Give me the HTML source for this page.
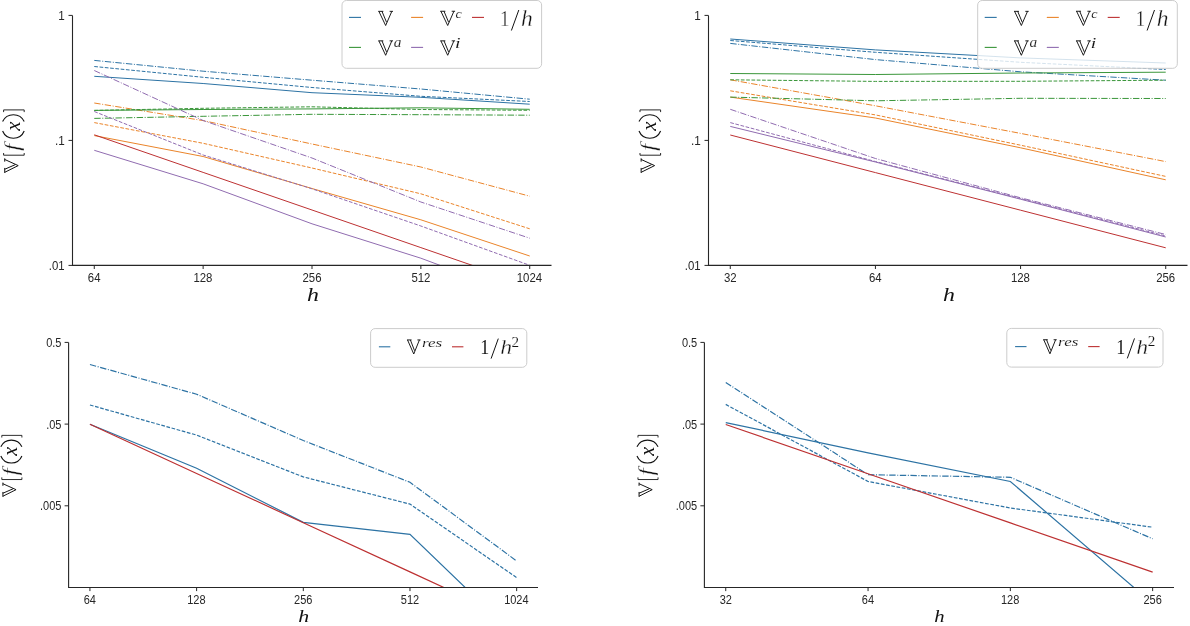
<!DOCTYPE html><html><head><meta charset="utf-8"><style>html,body{margin:0;padding:0;background:#fff;width:1190px;height:626px;overflow:hidden}svg{display:block;will-change:transform}</style></head><body>
<svg width="1190" height="626" viewBox="0 0 1190 626">
<clipPath id="c1"><rect x="72.5" y="-14.6" width="479" height="280"/></clipPath>
<clipPath id="c2"><rect x="708.5" y="-14.6" width="479" height="280"/></clipPath>
<clipPath id="c3"><rect x="68.6" y="312.4" width="469.4" height="275.1"/></clipPath>
<clipPath id="c4"><rect x="704.4" y="312.4" width="469.6" height="275.1"/></clipPath>
<polyline points="94.273,76.3 203.136,83.5 312,92.7 420.864,97.3 529.727,104.2" fill="none" stroke="#2d73a4" stroke-width="1" clip-path="url(#c1)"/>
<polyline points="94.273,66.5 203.136,77.3 312,87.5 420.864,96.3 529.727,101.5" fill="none" stroke="#2d73a4" stroke-width="1" stroke-dasharray="3.7,1.6" clip-path="url(#c1)"/>
<polyline points="94.273,60.4 203.136,71.2 312,80.2 420.864,89 529.727,99.2" fill="none" stroke="#2d73a4" stroke-width="1" stroke-dasharray="6.4,1.6,1,1.6" clip-path="url(#c1)"/>
<polyline points="94.273,135.6 203.136,156.5 312,188.5 420.864,219.8 529.727,256" fill="none" stroke="#ea842a" stroke-width="1" clip-path="url(#c1)"/>
<polyline points="94.273,122.6 203.136,143.3 312,168 420.864,193.8 529.727,228.8" fill="none" stroke="#ea842a" stroke-width="1" stroke-dasharray="3.7,1.6" clip-path="url(#c1)"/>
<polyline points="94.273,103 203.136,120.6 312,144 420.864,167 529.727,196.2" fill="none" stroke="#ea842a" stroke-width="1" stroke-dasharray="6.4,1.6,1,1.6" clip-path="url(#c1)"/>
<polyline points="94.273,110.4 203.136,109.5 312,108.9 420.864,107.8 529.727,109.3" fill="none" stroke="#3a963a" stroke-width="1" clip-path="url(#c1)"/>
<polyline points="94.273,110.4 203.136,108.3 312,106.8 420.864,109.5 529.727,110.3" fill="none" stroke="#3a963a" stroke-width="1" stroke-dasharray="3.7,1.6" clip-path="url(#c1)"/>
<polyline points="94.273,118.4 203.136,116.3 312,114.3 420.864,114.7 529.727,115.2" fill="none" stroke="#3a963a" stroke-width="1" stroke-dasharray="6.4,1.6,1,1.6" clip-path="url(#c1)"/>
<polyline points="94.273,150.3 203.136,183.8 312,223.8 420.864,258.2 529.727,298.8" fill="none" stroke="#906cb0" stroke-width="1" clip-path="url(#c1)"/>
<polyline points="94.273,111.5 203.136,155 312,188.8 420.864,226 529.727,265.3" fill="none" stroke="#906cb0" stroke-width="1" stroke-dasharray="3.7,1.6" clip-path="url(#c1)"/>
<polyline points="94.273,70.5 203.136,120.5 312,158 420.864,202 529.727,238.2" fill="none" stroke="#906cb0" stroke-width="1" stroke-dasharray="6.4,1.6,1,1.6" clip-path="url(#c1)"/>
<polyline points="94.273,134.8 203.136,172.4 312,210 420.864,247.6 529.727,285.2" fill="none" stroke="#bd3132" stroke-width="1" clip-path="url(#c1)"/>
<polyline points="730.273,39 875.424,49.9 1020.576,57.9 1165.727,63" fill="none" stroke="#2d73a4" stroke-width="1" clip-path="url(#c2)"/>
<polyline points="730.273,40.5 875.424,52.3 1020.576,62.3 1165.727,69.5" fill="none" stroke="#2d73a4" stroke-width="1" stroke-dasharray="3.7,1.6" clip-path="url(#c2)"/>
<polyline points="730.273,43.4 875.424,59.6 1020.576,71.8 1165.727,80.2" fill="none" stroke="#2d73a4" stroke-width="1" stroke-dasharray="6.4,1.6,1,1.6" clip-path="url(#c2)"/>
<polyline points="730.273,97.1 875.424,118 1020.576,147.8 1165.727,179.8" fill="none" stroke="#ea842a" stroke-width="1" clip-path="url(#c2)"/>
<polyline points="730.273,90.8 875.424,114.9 1020.576,145.2 1165.727,176.4" fill="none" stroke="#ea842a" stroke-width="1" stroke-dasharray="3.7,1.6" clip-path="url(#c2)"/>
<polyline points="730.273,79.8 875.424,105.8 1020.576,133.4 1165.727,161.6" fill="none" stroke="#ea842a" stroke-width="1" stroke-dasharray="6.4,1.6,1,1.6" clip-path="url(#c2)"/>
<polyline points="730.273,73.5 875.424,74.5 1020.576,73 1165.727,72.2" fill="none" stroke="#3a963a" stroke-width="1" clip-path="url(#c2)"/>
<polyline points="730.273,79.8 875.424,81.4 1020.576,81.3 1165.727,80.2" fill="none" stroke="#3a963a" stroke-width="1" stroke-dasharray="3.7,1.6" clip-path="url(#c2)"/>
<polyline points="730.273,97.1 875.424,100.8 1020.576,98.3 1165.727,98.5" fill="none" stroke="#3a963a" stroke-width="1" stroke-dasharray="6.4,1.6,1,1.6" clip-path="url(#c2)"/>
<polyline points="730.273,126.4 875.424,162 1020.576,199.2 1165.727,237" fill="none" stroke="#906cb0" stroke-width="1" clip-path="url(#c2)"/>
<polyline points="730.273,122.6 875.424,161.5 1020.576,198.6 1165.727,236" fill="none" stroke="#906cb0" stroke-width="1" stroke-dasharray="3.7,1.6" clip-path="url(#c2)"/>
<polyline points="730.273,109.3 875.424,158.5 1020.576,197.8 1165.727,234.5" fill="none" stroke="#906cb0" stroke-width="1" stroke-dasharray="6.4,1.6,1,1.6" clip-path="url(#c2)"/>
<polyline points="730.273,135 875.424,172.6 1020.576,210.2 1165.727,247.8" fill="none" stroke="#bd3132" stroke-width="1" clip-path="url(#c2)"/>
<polyline points="89.936,424.3 196.618,468.3 303.3,522.3 409.982,534.4 516.664,637" fill="none" stroke="#2d73a4" stroke-width="1.2" clip-path="url(#c3)"/>
<polyline points="89.936,405 196.618,435.1 303.3,476.9 409.982,504.1 516.664,577.6" fill="none" stroke="#2d73a4" stroke-width="1.2" stroke-dasharray="3.7,1.6" clip-path="url(#c3)"/>
<polyline points="89.936,364.5 196.618,394.2 303.3,440.5 409.982,482.3 516.664,561" fill="none" stroke="#2d73a4" stroke-width="1.2" stroke-dasharray="6.4,1.6,1,1.6" clip-path="url(#c3)"/>
<polyline points="89.936,424.3 196.618,473.5 303.3,522.7 409.982,571.9 516.664,621.1" fill="none" stroke="#bd3132" stroke-width="1.2" clip-path="url(#c3)"/>
<polyline points="725.745,422.6 868.048,452.8 1010.352,481.5 1152.655,603.6" fill="none" stroke="#2d73a4" stroke-width="1.2" clip-path="url(#c4)"/>
<polyline points="725.745,404.4 868.048,481.5 1010.352,508 1152.655,527.2" fill="none" stroke="#2d73a4" stroke-width="1.2" stroke-dasharray="3.7,1.6" clip-path="url(#c4)"/>
<polyline points="725.745,382.4 868.048,474.7 1010.352,477.3 1152.655,538.8" fill="none" stroke="#2d73a4" stroke-width="1.2" stroke-dasharray="6.4,1.6,1,1.6" clip-path="url(#c4)"/>
<polyline points="725.745,424.5 868.048,473.7 1010.352,522.9 1152.655,572.1" fill="none" stroke="#bd3132" stroke-width="1.2" clip-path="url(#c4)"/>
<path d="M72.5 15.4V265.4H551.5" fill="none" stroke="#262626" stroke-width="1.1"/>
<path d="M94.273 265.4L94.273 269" stroke="#262626" stroke-width="1"/>
<text transform="matrix(0.114 0 0 0.124 87.802 281.876)" style="font-family:&quot;Liberation Sans&quot;,sans-serif;font-size:100px" fill="#262626">64</text>
<path d="M203.136 265.4L203.136 269" stroke="#262626" stroke-width="1"/>
<text transform="matrix(0.114 0 0 0.124 193.444 281.876)" style="font-family:&quot;Liberation Sans&quot;,sans-serif;font-size:100px" fill="#262626">128</text>
<path d="M312 265.4L312 269" stroke="#262626" stroke-width="1"/>
<text transform="matrix(0.114 0 0 0.124 302.45 281.876)" style="font-family:&quot;Liberation Sans&quot;,sans-serif;font-size:100px" fill="#262626">256</text>
<path d="M420.864 265.4L420.864 269" stroke="#262626" stroke-width="1"/>
<text transform="matrix(0.114 0 0 0.124 411.428 281.876)" style="font-family:&quot;Liberation Sans&quot;,sans-serif;font-size:100px" fill="#262626">512</text>
<path d="M529.727 265.4L529.727 269" stroke="#262626" stroke-width="1"/>
<text transform="matrix(0.114 0 0 0.124 516.757 281.876)" style="font-family:&quot;Liberation Sans&quot;,sans-serif;font-size:100px" fill="#262626">1024</text>
<path d="M72.5 15.4L68.5 15.4" stroke="#262626" stroke-width="1"/>
<text transform="matrix(0.117 0 0 0.128 58.216 20.1)" style="font-family:&quot;Liberation Sans&quot;,sans-serif;font-size:100px" fill="#262626">1</text>
<path d="M72.5 140.4L68.5 140.4" stroke="#262626" stroke-width="1"/>
<text transform="matrix(0.117 0 0 0.128 54.931 145.1)" style="font-family:&quot;Liberation Sans&quot;,sans-serif;font-size:100px" fill="#262626">.1</text>
<path d="M72.5 265.4L68.5 265.4" stroke="#262626" stroke-width="1"/>
<text transform="matrix(0.114 0 0 0.124 48.863 269.976)" style="font-family:&quot;Liberation Sans&quot;,sans-serif;font-size:100px" fill="#262626">.01</text>
<path d="M708.5 15.4V265.4H1187.5" fill="none" stroke="#262626" stroke-width="1.1"/>
<path d="M730.273 265.4L730.273 269" stroke="#262626" stroke-width="1"/>
<text transform="matrix(0.114 0 0 0.124 724.03 281.876)" style="font-family:&quot;Liberation Sans&quot;,sans-serif;font-size:100px" fill="#262626">32</text>
<path d="M875.424 265.4L875.424 269" stroke="#262626" stroke-width="1"/>
<text transform="matrix(0.114 0 0 0.124 868.953 281.876)" style="font-family:&quot;Liberation Sans&quot;,sans-serif;font-size:100px" fill="#262626">64</text>
<path d="M1020.576 265.4L1020.576 269" stroke="#262626" stroke-width="1"/>
<text transform="matrix(0.114 0 0 0.124 1010.883 281.876)" style="font-family:&quot;Liberation Sans&quot;,sans-serif;font-size:100px" fill="#262626">128</text>
<path d="M1165.727 265.4L1165.727 269" stroke="#262626" stroke-width="1"/>
<text transform="matrix(0.114 0 0 0.124 1156.177 281.876)" style="font-family:&quot;Liberation Sans&quot;,sans-serif;font-size:100px" fill="#262626">256</text>
<path d="M708.5 15.4L704.5 15.4" stroke="#262626" stroke-width="1"/>
<text transform="matrix(0.117 0 0 0.128 694.216 20.1)" style="font-family:&quot;Liberation Sans&quot;,sans-serif;font-size:100px" fill="#262626">1</text>
<path d="M708.5 140.4L704.5 140.4" stroke="#262626" stroke-width="1"/>
<text transform="matrix(0.117 0 0 0.128 690.931 145.1)" style="font-family:&quot;Liberation Sans&quot;,sans-serif;font-size:100px" fill="#262626">.1</text>
<path d="M708.5 265.4L704.5 265.4" stroke="#262626" stroke-width="1"/>
<text transform="matrix(0.114 0 0 0.124 684.863 269.976)" style="font-family:&quot;Liberation Sans&quot;,sans-serif;font-size:100px" fill="#262626">.01</text>
<path d="M68.6 342.4V587.5H538" fill="none" stroke="#262626" stroke-width="1.1"/>
<path d="M89.936 587.5L89.936 591.1" stroke="#262626" stroke-width="1"/>
<text transform="matrix(0.11 0 0 0.12 83.686 603.68)" style="font-family:&quot;Liberation Sans&quot;,sans-serif;font-size:100px" fill="#262626">64</text>
<path d="M196.618 587.5L196.618 591.1" stroke="#262626" stroke-width="1"/>
<text transform="matrix(0.11 0 0 0.12 187.256 603.68)" style="font-family:&quot;Liberation Sans&quot;,sans-serif;font-size:100px" fill="#262626">128</text>
<path d="M303.3 587.5L303.3 591.1" stroke="#262626" stroke-width="1"/>
<text transform="matrix(0.11 0 0 0.12 294.076 603.68)" style="font-family:&quot;Liberation Sans&quot;,sans-serif;font-size:100px" fill="#262626">256</text>
<path d="M409.982 587.5L409.982 591.1" stroke="#262626" stroke-width="1"/>
<text transform="matrix(0.11 0 0 0.12 400.868 603.68)" style="font-family:&quot;Liberation Sans&quot;,sans-serif;font-size:100px" fill="#262626">512</text>
<path d="M516.664 587.5L516.664 591.1" stroke="#262626" stroke-width="1"/>
<text transform="matrix(0.11 0 0 0.12 504.135 603.68)" style="font-family:&quot;Liberation Sans&quot;,sans-serif;font-size:100px" fill="#262626">1024</text>
<path d="M68.6 342.4L64.6 342.4" stroke="#262626" stroke-width="1"/>
<text transform="matrix(0.11 0 0 0.12 46.131 346.83)" style="font-family:&quot;Liberation Sans&quot;,sans-serif;font-size:100px" fill="#262626">0.5</text>
<path d="M68.6 424.1L64.6 424.1" stroke="#262626" stroke-width="1"/>
<text transform="matrix(0.11 0 0 0.12 46.131 428.53)" style="font-family:&quot;Liberation Sans&quot;,sans-serif;font-size:100px" fill="#262626">.05</text>
<path d="M68.6 505.8L64.6 505.8" stroke="#262626" stroke-width="1"/>
<text transform="matrix(0.11 0 0 0.12 40.018 510.23)" style="font-family:&quot;Liberation Sans&quot;,sans-serif;font-size:100px" fill="#262626">.005</text>
<path d="M704.4 342.4V587.5H1174" fill="none" stroke="#262626" stroke-width="1.1"/>
<path d="M725.745 587.5L725.745 591.1" stroke="#262626" stroke-width="1"/>
<text transform="matrix(0.11 0 0 0.12 719.715 603.68)" style="font-family:&quot;Liberation Sans&quot;,sans-serif;font-size:100px" fill="#262626">32</text>
<path d="M868.048 587.5L868.048 591.1" stroke="#262626" stroke-width="1"/>
<text transform="matrix(0.11 0 0 0.12 861.798 603.68)" style="font-family:&quot;Liberation Sans&quot;,sans-serif;font-size:100px" fill="#262626">64</text>
<path d="M1010.352 587.5L1010.352 591.1" stroke="#262626" stroke-width="1"/>
<text transform="matrix(0.11 0 0 0.12 1000.99 603.68)" style="font-family:&quot;Liberation Sans&quot;,sans-serif;font-size:100px" fill="#262626">128</text>
<path d="M1152.655 587.5L1152.655 591.1" stroke="#262626" stroke-width="1"/>
<text transform="matrix(0.11 0 0 0.12 1143.43 603.68)" style="font-family:&quot;Liberation Sans&quot;,sans-serif;font-size:100px" fill="#262626">256</text>
<path d="M704.4 342.4L700.4 342.4" stroke="#262626" stroke-width="1"/>
<text transform="matrix(0.11 0 0 0.12 681.931 346.83)" style="font-family:&quot;Liberation Sans&quot;,sans-serif;font-size:100px" fill="#262626">0.5</text>
<path d="M704.4 424.1L700.4 424.1" stroke="#262626" stroke-width="1"/>
<text transform="matrix(0.11 0 0 0.12 681.931 428.53)" style="font-family:&quot;Liberation Sans&quot;,sans-serif;font-size:100px" fill="#262626">.05</text>
<path d="M704.4 505.8L700.4 505.8" stroke="#262626" stroke-width="1"/>
<text transform="matrix(0.11 0 0 0.12 675.818 510.23)" style="font-family:&quot;Liberation Sans&quot;,sans-serif;font-size:100px" fill="#262626">.005</text>
<text transform="matrix(0.238 0 0 0.178 307.068 300.9)" style="font-family:&quot;Liberation Serif&quot;,serif;font-style:italic;font-size:100px" fill="#111">h</text>
<text transform="matrix(0.238 0 0 0.178 943.068 300.9)" style="font-family:&quot;Liberation Serif&quot;,serif;font-style:italic;font-size:100px" fill="#111">h</text>
<text transform="matrix(0.219 0 0 0.17 298.234 621.9)" style="font-family:&quot;Liberation Serif&quot;,serif;font-style:italic;font-size:100px" fill="#111">h</text>
<text transform="matrix(0.207 0 0 0.174 934.275 622)" style="font-family:&quot;Liberation Serif&quot;,serif;font-style:italic;font-size:100px" fill="#111">h</text>
<g transform="translate(13.9 141) scale(1) translate(-13.9 -141) rotate(-90)"><path d="M-172.9 4.726L-167.936 4.726M-172.316 4.726L-165.6 18.216M-169.25 4.726L-164.724 15.092M-165.6 18.216L-159.468 4.726M-161.658 4.726L-158.3 4.726" fill="none" stroke="#111" stroke-width="1" stroke-linecap="butt"/><path d="M-153 3.6H-155.2V24.2H-153" fill="none" stroke="#111" stroke-width="0.9"/><path d="M-112.1 3.6H-109.9V24.2H-112.1" fill="none" stroke="#111" stroke-width="0.9"/><text transform="matrix(0.26 0 0 0.211 -151.06 19.066)" style="font-family:&quot;Liberation Serif&quot;,serif;font-style:italic;font-size:100px" fill="#111" stroke="#fff" stroke-width="1.423">f</text><path d="M-131 2.6A11.7 11.7 0 0 0 -131 24.2" fill="none" stroke="#111" stroke-width="1.15"/><text transform="matrix(0.207 0 0 0.207 -130.69 19.6)" style="font-family:&quot;Liberation Serif&quot;,serif;font-style:italic;font-size:100px" fill="#111">x</text><path d="M-121.6 2.6A11.976 11.976 0 0 1 -121.6 24.2" fill="none" stroke="#111" stroke-width="1.15"/></g>
<g transform="translate(650.3 141) scale(1) translate(-13.9 -141) rotate(-90)"><path d="M-172.9 4.726L-167.936 4.726M-172.316 4.726L-165.6 18.216M-169.25 4.726L-164.724 15.092M-165.6 18.216L-159.468 4.726M-161.658 4.726L-158.3 4.726" fill="none" stroke="#111" stroke-width="1" stroke-linecap="butt"/><path d="M-153 3.6H-155.2V24.2H-153" fill="none" stroke="#111" stroke-width="0.9"/><path d="M-112.1 3.6H-109.9V24.2H-112.1" fill="none" stroke="#111" stroke-width="0.9"/><text transform="matrix(0.26 0 0 0.211 -151.06 19.066)" style="font-family:&quot;Liberation Serif&quot;,serif;font-style:italic;font-size:100px" fill="#111" stroke="#fff" stroke-width="1.423">f</text><path d="M-131 2.6A11.7 11.7 0 0 0 -131 24.2" fill="none" stroke="#111" stroke-width="1.15"/><text transform="matrix(0.207 0 0 0.207 -130.69 19.6)" style="font-family:&quot;Liberation Serif&quot;,serif;font-style:italic;font-size:100px" fill="#111">x</text><path d="M-121.6 2.6A11.976 11.976 0 0 1 -121.6 24.2" fill="none" stroke="#111" stroke-width="1.15"/></g>
<g transform="translate(11.85 465.7) scale(0.975) translate(-13.9 -141) rotate(-90)"><path d="M-172.9 4.726L-167.936 4.726M-172.316 4.726L-165.6 18.216M-169.25 4.726L-164.724 15.092M-165.6 18.216L-159.468 4.726M-161.658 4.726L-158.3 4.726" fill="none" stroke="#111" stroke-width="1" stroke-linecap="butt"/><path d="M-153 3.6H-155.2V24.2H-153" fill="none" stroke="#111" stroke-width="0.9"/><path d="M-112.1 3.6H-109.9V24.2H-112.1" fill="none" stroke="#111" stroke-width="0.9"/><text transform="matrix(0.26 0 0 0.211 -151.06 19.066)" style="font-family:&quot;Liberation Serif&quot;,serif;font-style:italic;font-size:100px" fill="#111" stroke="#fff" stroke-width="1.423">f</text><path d="M-131 2.6A11.7 11.7 0 0 0 -131 24.2" fill="none" stroke="#111" stroke-width="1.15"/><text transform="matrix(0.207 0 0 0.207 -130.69 19.6)" style="font-family:&quot;Liberation Serif&quot;,serif;font-style:italic;font-size:100px" fill="#111">x</text><path d="M-121.6 2.6A11.976 11.976 0 0 1 -121.6 24.2" fill="none" stroke="#111" stroke-width="1.15"/></g>
<g transform="translate(648 465.7) scale(0.975) translate(-13.9 -141) rotate(-90)"><path d="M-172.9 4.726L-167.936 4.726M-172.316 4.726L-165.6 18.216M-169.25 4.726L-164.724 15.092M-165.6 18.216L-159.468 4.726M-161.658 4.726L-158.3 4.726" fill="none" stroke="#111" stroke-width="1" stroke-linecap="butt"/><path d="M-153 3.6H-155.2V24.2H-153" fill="none" stroke="#111" stroke-width="0.9"/><path d="M-112.1 3.6H-109.9V24.2H-112.1" fill="none" stroke="#111" stroke-width="0.9"/><text transform="matrix(0.26 0 0 0.211 -151.06 19.066)" style="font-family:&quot;Liberation Serif&quot;,serif;font-style:italic;font-size:100px" fill="#111" stroke="#fff" stroke-width="1.423">f</text><path d="M-131 2.6A11.7 11.7 0 0 0 -131 24.2" fill="none" stroke="#111" stroke-width="1.15"/><text transform="matrix(0.207 0 0 0.207 -130.69 19.6)" style="font-family:&quot;Liberation Serif&quot;,serif;font-style:italic;font-size:100px" fill="#111">x</text><path d="M-121.6 2.6A11.976 11.976 0 0 1 -121.6 24.2" fill="none" stroke="#111" stroke-width="1.15"/></g>
<rect x="342" y="0.5" width="199.6" height="67.8" rx="4.5" fill="#fff" fill-opacity="0.8" stroke="#ccc" stroke-width="1"/>
<path d="M349 17.4h12" stroke="#2d73a4" stroke-width="1.1"/>
<path d="M411.1 17.4h12" stroke="#ea842a" stroke-width="1.1"/>
<path d="M472 17.4h12" stroke="#bd3132" stroke-width="1.1"/>
<path d="M349 47.4h12" stroke="#3a963a" stroke-width="1.1"/>
<path d="M411.1 47.4h12" stroke="#906cb0" stroke-width="1.1"/>
<path d="M378.3 11.347L383.298 11.347M378.888 11.347L385.65 25.502M381.975 11.347L386.532 22.224M385.65 25.502L391.824 11.347M389.619 11.347L393 11.347" fill="none" stroke="#111" stroke-width="0.95" stroke-linecap="butt"/>
<path d="M440.3 11.25L445.332 11.25M440.892 11.25L447.7 25.5M444 11.25L448.588 22.2M447.7 25.5L453.916 11.25M451.696 11.25L455.1 11.25" fill="none" stroke="#111" stroke-width="0.95" stroke-linecap="butt"/>
<text transform="matrix(0.141 0 0 0.129 455.478 17.671)" style="font-family:&quot;Liberation Serif&quot;,serif;font-style:italic;font-size:100px" fill="#111" stroke="#fff" stroke-width="0.929">c</text>
<text transform="matrix(0.189 0 0 0.229 500.096 26)" style="font-family:&quot;Liberation Serif&quot;,serif;font-size:100px" fill="#111" stroke="#fff" stroke-width="1.311">1</text>
<path d="M511.4 30.5L518.8 10" stroke="#111" stroke-width="1"/>
<text transform="matrix(0.235 0 0 0.222 521.076 26)" style="font-family:&quot;Liberation Serif&quot;,serif;font-style:italic;font-size:100px" fill="#111" stroke="#fff" stroke-width="1.354">h</text>
<path d="M378.3 40.856L383.298 40.856M378.888 40.856L385.65 55.296M381.975 40.856L386.532 51.952M385.65 55.296L391.824 40.856M389.619 40.856L393 40.856" fill="none" stroke="#111" stroke-width="0.95" stroke-linecap="butt"/>
<text transform="matrix(0.154 0 0 0.138 393.738 47.463)" style="font-family:&quot;Liberation Serif&quot;,serif;font-style:italic;font-size:100px" fill="#111" stroke="#fff" stroke-width="0.873">a</text>
<path d="M440.3 40.856L445.332 40.856M440.892 40.856L447.7 55.296M444 40.856L448.588 51.952M447.7 55.296L453.916 40.856M451.696 40.856L455.1 40.856" fill="none" stroke="#111" stroke-width="0.95" stroke-linecap="butt"/>
<text transform="matrix(0.215 0 0 0.147 454.715 47.7)" style="font-family:&quot;Liberation Serif&quot;,serif;font-style:italic;font-size:100px" fill="#111" stroke="#fff" stroke-width="0.816">i</text>
<rect x="977.7" y="0.5" width="199.6" height="67.8" rx="4.5" fill="#fff" fill-opacity="0.8" stroke="#ccc" stroke-width="1"/>
<path d="M984.7 17.4h12" stroke="#2d73a4" stroke-width="1.1"/>
<path d="M1046.8 17.4h12" stroke="#ea842a" stroke-width="1.1"/>
<path d="M1107.7 17.4h12" stroke="#bd3132" stroke-width="1.1"/>
<path d="M984.7 47.4h12" stroke="#3a963a" stroke-width="1.1"/>
<path d="M1046.8 47.4h12" stroke="#906cb0" stroke-width="1.1"/>
<path d="M1014 11.347L1018.998 11.347M1014.588 11.347L1021.35 25.502M1017.675 11.347L1022.232 22.224M1021.35 25.502L1027.524 11.347M1025.319 11.347L1028.7 11.347" fill="none" stroke="#111" stroke-width="0.95" stroke-linecap="butt"/>
<path d="M1076 11.25L1081.032 11.25M1076.592 11.25L1083.4 25.5M1079.7 11.25L1084.288 22.2M1083.4 25.5L1089.616 11.25M1087.396 11.25L1090.8 11.25" fill="none" stroke="#111" stroke-width="0.95" stroke-linecap="butt"/>
<text transform="matrix(0.141 0 0 0.129 1091.178 17.671)" style="font-family:&quot;Liberation Serif&quot;,serif;font-style:italic;font-size:100px" fill="#111" stroke="#fff" stroke-width="0.929">c</text>
<text transform="matrix(0.189 0 0 0.229 1135.796 26)" style="font-family:&quot;Liberation Serif&quot;,serif;font-size:100px" fill="#111" stroke="#fff" stroke-width="1.311">1</text>
<path d="M1147.1 30.5L1154.5 10" stroke="#111" stroke-width="1"/>
<text transform="matrix(0.235 0 0 0.222 1156.776 26)" style="font-family:&quot;Liberation Serif&quot;,serif;font-style:italic;font-size:100px" fill="#111" stroke="#fff" stroke-width="1.354">h</text>
<path d="M1014 40.856L1018.998 40.856M1014.588 40.856L1021.35 55.296M1017.675 40.856L1022.232 51.952M1021.35 55.296L1027.524 40.856M1025.319 40.856L1028.7 40.856" fill="none" stroke="#111" stroke-width="0.95" stroke-linecap="butt"/>
<text transform="matrix(0.154 0 0 0.138 1029.438 47.463)" style="font-family:&quot;Liberation Serif&quot;,serif;font-style:italic;font-size:100px" fill="#111" stroke="#fff" stroke-width="0.873">a</text>
<path d="M1076 40.856L1081.032 40.856M1076.592 40.856L1083.4 55.296M1079.7 40.856L1084.288 51.952M1083.4 55.296L1089.616 40.856M1087.396 40.856L1090.8 40.856" fill="none" stroke="#111" stroke-width="0.95" stroke-linecap="butt"/>
<text transform="matrix(0.215 0 0 0.147 1090.415 47.7)" style="font-family:&quot;Liberation Serif&quot;,serif;font-style:italic;font-size:100px" fill="#111" stroke="#fff" stroke-width="0.816">i</text>
<rect x="370.6" y="328.6" width="156.2" height="38.7" rx="4.5" fill="#fff" fill-opacity="0.8" stroke="#ccc" stroke-width="1"/>
<path d="M378.9 346.8h11.4" stroke="#2d73a4" stroke-width="1.1"/>
<path d="M452 346.8h11.4" stroke="#bd3132" stroke-width="1.1"/>
<path d="M407 339.944L411.59 339.944M407.54 339.944L413.75 354.004M410.375 339.944L414.56 350.748M413.75 354.004L419.42 339.944M417.395 339.944L420.5 339.944" fill="none" stroke="#111" stroke-width="0.95" stroke-linecap="butt"/>
<text transform="matrix(0.171 0 0 0.129 421.915 346.671)" style="font-family:&quot;Liberation Serif&quot;,serif;font-style:italic;font-size:100px" fill="#111" stroke="#fff" stroke-width="0.929">res</text>
<text transform="matrix(0.18 0 0 0.208 480.168 354)" style="font-family:&quot;Liberation Serif&quot;,serif;font-size:100px" fill="#111">1</text>
<path d="M491.1 358.6L498.3 338.6" stroke="#111" stroke-width="1"/>
<text transform="matrix(0.238 0 0 0.209 500.168 354)" style="font-family:&quot;Liberation Serif&quot;,serif;font-style:italic;font-size:100px" fill="#111" stroke="#fff" stroke-width="1.438">h</text>
<text transform="matrix(0.152 0 0 0.144 511.514 346.5)" style="font-family:&quot;Liberation Serif&quot;,serif;font-size:100px" fill="#111" stroke="#fff" stroke-width="0.834">2</text>
<rect x="1006.8" y="328.4" width="156.2" height="38.7" rx="4.5" fill="#fff" fill-opacity="0.8" stroke="#ccc" stroke-width="1"/>
<path d="M1015.1 346.6h11.4" stroke="#2d73a4" stroke-width="1.1"/>
<path d="M1088.2 346.6h11.4" stroke="#bd3132" stroke-width="1.1"/>
<path d="M1043.2 339.744L1047.79 339.744M1043.74 339.744L1049.95 353.804M1046.575 339.744L1050.76 350.548M1049.95 353.804L1055.62 339.744M1053.595 339.744L1056.7 339.744" fill="none" stroke="#111" stroke-width="0.95" stroke-linecap="butt"/>
<text transform="matrix(0.171 0 0 0.129 1058.115 346.471)" style="font-family:&quot;Liberation Serif&quot;,serif;font-style:italic;font-size:100px" fill="#111" stroke="#fff" stroke-width="0.929">res</text>
<text transform="matrix(0.18 0 0 0.208 1116.368 353.8)" style="font-family:&quot;Liberation Serif&quot;,serif;font-size:100px" fill="#111">1</text>
<path d="M1127.3 358.4L1134.5 338.4" stroke="#111" stroke-width="1"/>
<text transform="matrix(0.238 0 0 0.209 1136.368 353.8)" style="font-family:&quot;Liberation Serif&quot;,serif;font-style:italic;font-size:100px" fill="#111" stroke="#fff" stroke-width="1.438">h</text>
<text transform="matrix(0.152 0 0 0.144 1147.714 346.3)" style="font-family:&quot;Liberation Serif&quot;,serif;font-size:100px" fill="#111" stroke="#fff" stroke-width="0.834">2</text>
</svg></body></html>
